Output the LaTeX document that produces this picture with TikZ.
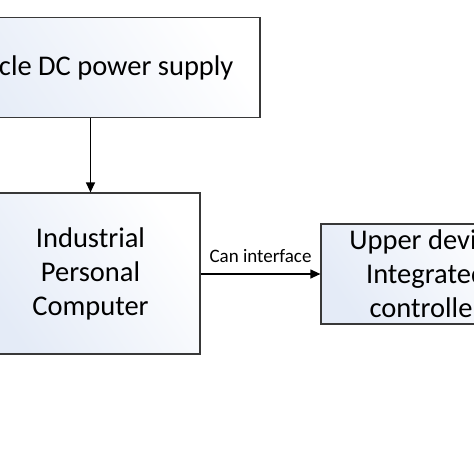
\documentclass[tikz,border=0pt]{standalone}
\usepackage{fontspec}
\setmainfont{Carlito}
\usetikzlibrary{arrows.meta}
\definecolor{boxtint}{RGB}{228,235,247}
\begin{document}
\begin{tikzpicture}[x=1pt, y=-1pt, every node/.style={font=\fontsize{28.5}{34}\selectfont},
  blk/.style={rectangle, draw=black!78, line width=1.2pt, align=center, inner sep=0pt,
    left color=boxtint, right color=white, shading angle=125},
  link/.style={-{Triangle[length=10pt, width=9pt]}, line width=1.2pt, black}]
  \useasboundingbox (0,0) rectangle (474,474);
  \clip (0,0) rectangle (474,474);
  \node[blk, minimum width=338pt, minimum height=100pt] (psu) at (91,67.5) {Vehicle DC power supply};
  \node[blk, minimum width=219pt, minimum height=161pt] (ipc) at (90.5,273.5) {Industrial\\Personal\\Computer};
  \node[blk, minimum width=210pt, minimum height=100pt] (upc) at (426,274) {Upper device\\Integrated\\controller};
  \draw[link] (psu.south -| ipc.north) -- (ipc.north);
  \draw[link] (ipc.east |- upc.west) -- (upc.west) node[midway, above=9pt, inner sep=2pt, font=\fontsize{19}{22}\selectfont] {Can interface};
\end{tikzpicture}
\end{document}
